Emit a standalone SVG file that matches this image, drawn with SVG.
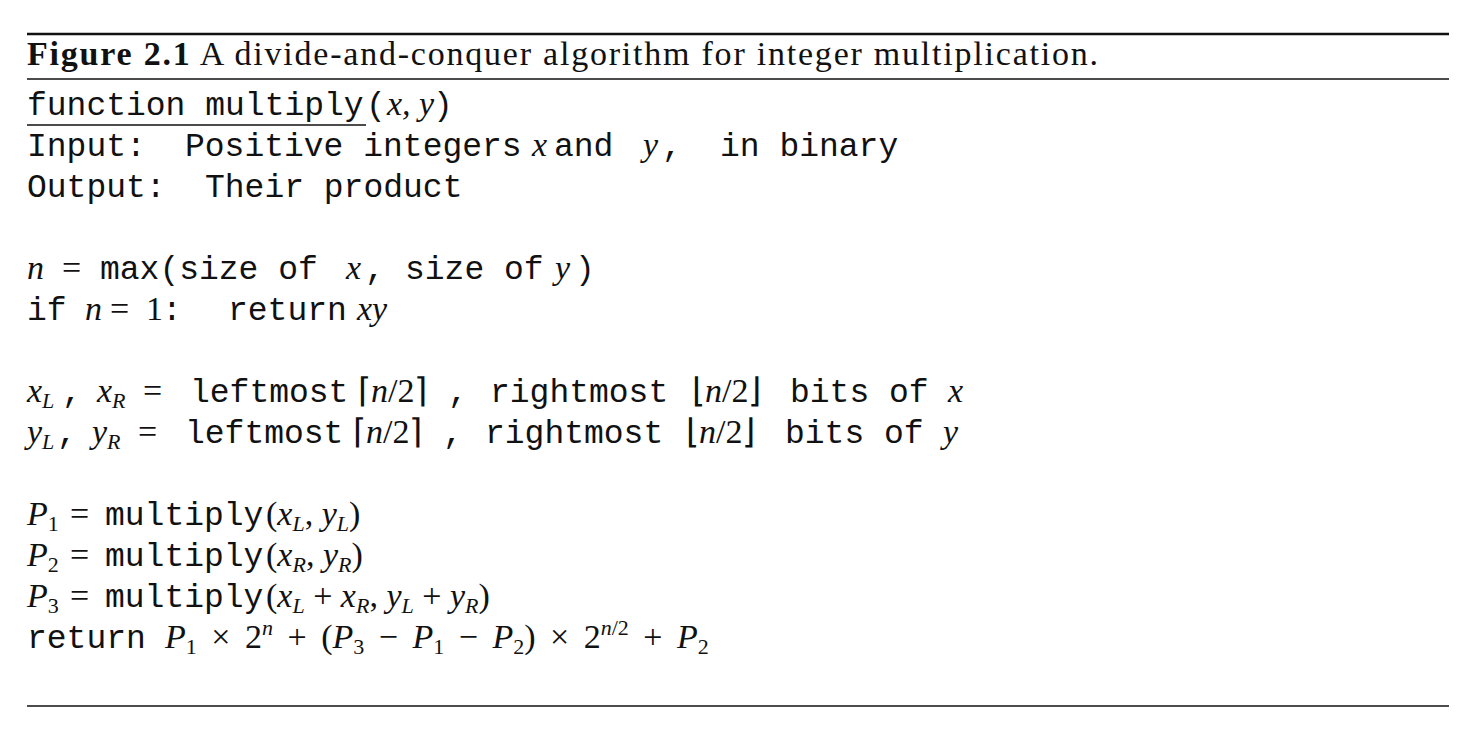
<svg xmlns="http://www.w3.org/2000/svg" width="1484" height="736" viewBox="0 0 1484 736">
<style>
.m{font-family:"Liberation Mono",monospace;font-size:33px;fill:#111}
.s{font-family:"Liberation Serif",serif;font-size:34px;fill:#111}
.i{font-family:"Liberation Serif",serif;font-style:italic;font-size:34px;fill:#111}
.sub{font-size:22px;font-style:normal}
.subi{font-size:22px;font-style:italic}
.cap{font-family:"Liberation Serif",serif;font-size:34px;fill:#111}
</style>
<rect width="1484" height="736" fill="#fff"/>
<line x1="27" y1="34" x2="1449" y2="34" stroke="#111" stroke-width="2.5"/>
<line x1="27" y1="79" x2="1449" y2="79" stroke="#111" stroke-width="1.5"/>
<line x1="27" y1="706" x2="1449" y2="706" stroke="#111" stroke-width="1.5"/>
<text class="cap" x="27" y="65" textLength="1071" lengthAdjust="spacing"><tspan font-weight="bold">Figure 2.1</tspan> A divide-and-conquer algorithm for integer multiplication.</text>

<text class="m" x="27" y="115">function multiply</text>
<line x1="27" y1="125" x2="366" y2="125" stroke="#111" stroke-width="1.5"/>
<text class="m" x="366" y="115">(</text><text class="i" x="387" y="115">x, y</text><text class="m" x="433" y="115">)</text>

<text class="m" x="27" y="156">Input:</text><text class="m" x="185" y="156">Positive integers</text>
<text class="i" x="532" y="156">x</text><text class="m" x="554" y="156">and</text><text class="i" x="643" y="156">y</text><text class="m" x="662" y="156">,</text><text class="m" x="720" y="156">in binary</text>

<text class="m" x="27" y="197">Output:</text><text class="m" x="205" y="197">Their product</text>

<text class="i" x="27" y="279">n</text><text class="s" x="62" y="279">=</text>
<text class="m" x="100" y="279">max(size of</text><text class="i" x="346" y="279">x</text><text class="m" x="365" y="279">,</text><text class="m" x="405" y="279">size of</text><text class="i" x="555" y="279">y</text><text class="m" x="575" y="279">)</text>

<text class="m" x="27" y="320">if</text><text class="i" x="85" y="320">n</text><text class="s" x="110" y="320">=</text><text class="s" x="146" y="320">1</text><text class="m" x="162" y="320">:</text>
<text class="m" x="228" y="320">return</text><text class="i" x="357" y="320">xy</text>

<text class="i" x="27" y="402">x<tspan class="subi" dy="6">L</tspan></text><text class="m" x="62" y="402">,</text>
<text class="i" x="97" y="402">x<tspan class="subi" dy="6">R</tspan></text><text class="s" x="143" y="402">=</text>
<text class="m" x="190" y="402">leftmost</text><text class="s" x="358" y="402">⌈<tspan font-style="italic">n</tspan>/2⌉</text><text class="m" x="448" y="402">,</text>
<text class="m" x="490" y="402">rightmost</text><text class="s" x="692" y="402">⌊<tspan font-style="italic">n</tspan>/2⌋</text>
<text class="m" x="790" y="402">bits of</text><text class="i" x="948" y="402">x</text>

<text class="i" x="27" y="443">y<tspan class="subi" dy="6">L</tspan></text><text class="m" x="57" y="443">,</text>
<text class="i" x="92" y="443">y<tspan class="subi" dy="6">R</tspan></text><text class="s" x="138" y="443">=</text>
<text class="m" x="185" y="443">leftmost</text><text class="s" x="353" y="443">⌈<tspan font-style="italic">n</tspan>/2⌉</text><text class="m" x="443" y="443">,</text>
<text class="m" x="485" y="443">rightmost</text><text class="s" x="686" y="443">⌊<tspan font-style="italic">n</tspan>/2⌋</text>
<text class="m" x="785" y="443">bits of</text><text class="i" x="943" y="443">y</text>

<text class="i" x="27" y="525">P<tspan class="sub" dy="6">1</tspan></text><text class="s" x="70" y="525">=</text>
<text class="m" x="105" y="525">multiply</text><text class="s" x="266" y="525">(<tspan font-style="italic">x</tspan><tspan class="subi" dy="6">L</tspan><tspan dy="-6">, </tspan><tspan font-style="italic">y</tspan><tspan class="subi" dy="6">L</tspan><tspan dy="-6">)</tspan></text>

<text class="i" x="27" y="566">P<tspan class="sub" dy="6">2</tspan></text><text class="s" x="70" y="566">=</text>
<text class="m" x="105" y="566">multiply</text><text class="s" x="266" y="566">(<tspan font-style="italic">x</tspan><tspan class="subi" dy="6">R</tspan><tspan dy="-6">, </tspan><tspan font-style="italic">y</tspan><tspan class="subi" dy="6">R</tspan><tspan dy="-6">)</tspan></text>

<text class="i" x="27" y="607">P<tspan class="sub" dy="6">3</tspan></text><text class="s" x="70" y="607">=</text>
<text class="m" x="105" y="607">multiply</text><text class="s" x="266" y="607">(<tspan font-style="italic">x</tspan><tspan class="subi" dy="6">L</tspan><tspan dy="-6"> + </tspan><tspan font-style="italic">x</tspan><tspan class="subi" dy="6">R</tspan><tspan dy="-6">, </tspan><tspan font-style="italic">y</tspan><tspan class="subi" dy="6">L</tspan><tspan dy="-6"> + </tspan><tspan font-style="italic">y</tspan><tspan class="subi" dy="6">R</tspan><tspan dy="-6">)</tspan></text>

<text class="m" x="27" y="648">return</text>
<text class="s" x="165" y="648" word-spacing="6"><tspan font-style="italic">P</tspan><tspan class="sub" dy="6">1</tspan><tspan dy="-6"> × 2</tspan><tspan class="subi" dy="-13">n</tspan><tspan dy="13"> + (</tspan><tspan font-style="italic">P</tspan><tspan class="sub" dy="6">3</tspan><tspan dy="-6"> − </tspan><tspan font-style="italic">P</tspan><tspan class="sub" dy="6">1</tspan><tspan dy="-6"> − </tspan><tspan font-style="italic">P</tspan><tspan class="sub" dy="6">2</tspan><tspan dy="-6">) × 2</tspan><tspan class="subi" dy="-13">n</tspan><tspan class="sub">/2</tspan><tspan dy="13"> + </tspan><tspan font-style="italic">P</tspan><tspan class="sub" dy="6">2</tspan></text>
</svg>
